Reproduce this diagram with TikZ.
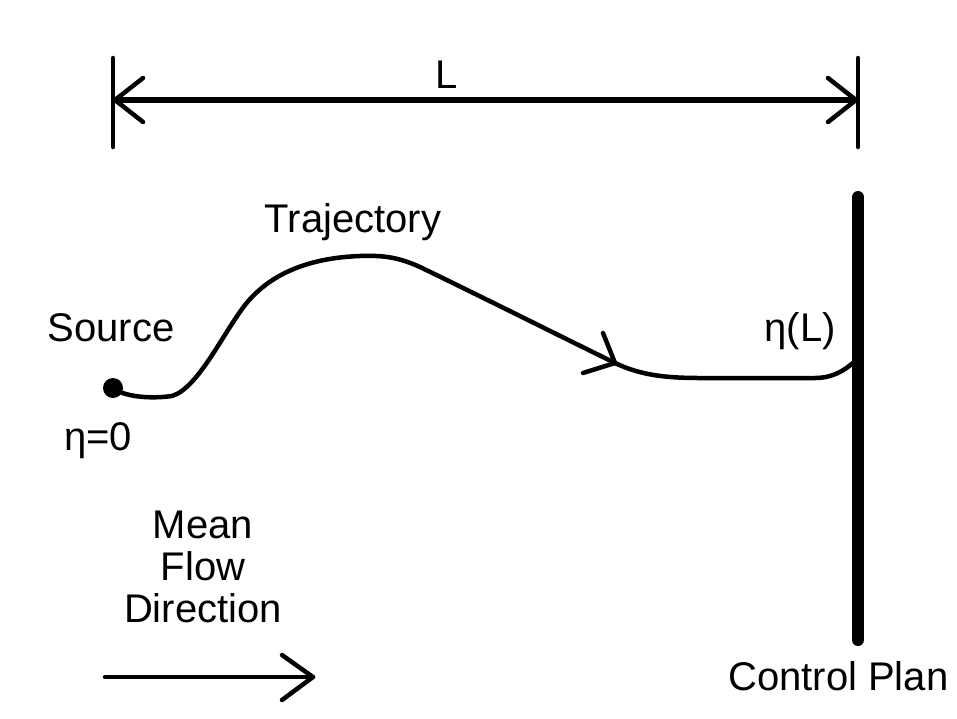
\documentclass[tikz,border=0pt]{standalone}
\usepackage{fontspec}
\setmainfont{Liberation Sans}
\begin{document}
\begin{tikzpicture}[x=1pt,y=-1pt,
  lbl/.style={inner sep=0pt, anchor=base, font=\fontsize{40}{42}\selectfont},
  thin line/.style={line width=4.5pt, line cap=round, line join=round},
  dimline/.style={line width=5.5pt, line cap=round, line join=round}]
\useasboundingbox (0,0) rectangle (957,718);
% dimension L
\coordinate (dl) at (115,100);
\coordinate (dr) at (856,100);
\draw[thin line] (113,58) -- (113,147);
\draw[thin line] (858,58) -- (858,147);
\draw[dimline] (dl) -- (dr);
\draw[thin line] (143,78) -- (dl) -- (143,122);
\draw[thin line] (828,78) -- (dr) -- (828,122);
\node[lbl] (Ltxt) at (447,88) {L};
% control plane
\coordinate (cpTop) at (858,197);
\coordinate (cpBot) at (858,640);
\draw[line width=12pt, line cap=round] (cpTop) -- (cpBot);
\node[lbl, anchor=base west] (cptxt) at (728,690) {Control Plan};
% source
\node[circle, fill=black, inner sep=0pt, minimum size=20pt] (src) at (113,388) {};
\node[lbl] (srctxt) at (111,341) {Source};
\node[lbl] (eta0) at (98,450) {η=0};
% trajectory
\coordinate (tip) at (615,363);
\coordinate (hit) at (854,362);
\draw[thin line] (src.center) .. controls (125,397) and (150,399) .. (172,396)
  .. controls (198,388) and (222,335) .. (245,305)
  .. controls (268,276) and (305,258) .. (360,256)
  .. controls (385,255) and (400,258) .. (420,267)
  .. controls (480,296) and (560,336) .. (tip)
  .. controls (640,375) and (665,378) .. (700,378)
  -- (815,378) .. controls (833,378) and (845,370) .. (hit);
\draw[thin line] (tip) -- ++(-12,-30);
\draw[thin line] (tip) -- ++(-32,10);
\node[lbl] (trajtxt) at (353,232) {Trajectory};
\node[lbl] (etaL) at (800,341) {η(L)};
% mean flow
\node[lbl, align=center, anchor=base] (mfd) at (203,622) {Mean\\Flow\\Direction};
\coordinate (fa) at (105,677);
\coordinate (fb) at (313,677);
\draw[thin line] (fa) -- (fb);
\draw[thin line] (282,655) -- (fb) -- (282,700);
\end{tikzpicture}
\end{document}
